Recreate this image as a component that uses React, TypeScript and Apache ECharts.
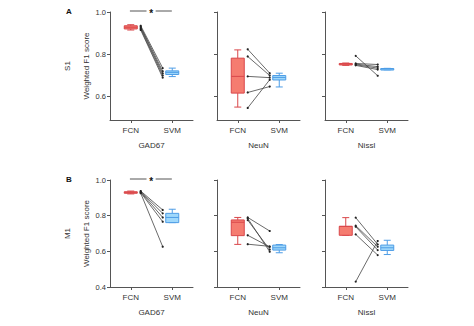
import React, { useEffect, useRef } from "react";
import * as echarts from "echarts";

const categories = ["FCN", "SVM"];
const markers = ["GAD67", "NeuN", "Nissl"];
const regions = ["S1", "M1"];
const panelLetters = ["A", "B"];

// box stats per marker: [min, q1, median, q3, max]
const s1FcnBoxes = [
  [0.915, 0.92, 0.928, 0.935, 0.94],
  [0.551, 0.617, 0.696, 0.782, 0.821],
  [0.748, 0.751, 0.754, 0.757, 0.759],
];
const s1SvmBoxes = [
  [0.695, 0.705, 0.715, 0.722, 0.735],
  [0.646, 0.679, 0.691, 0.7, 0.711],
  [0.727, 0.729, 0.731, 0.733, 0.734],
];
const m1FcnBoxes = [
  [0.922, 0.927, 0.931, 0.934, 0.938],
  [0.639, 0.688, 0.763, 0.776, 0.79],
  [0.69, 0.69, 0.74, 0.74, 0.789],
];
const m1SvmBoxes = [
  [0.761, 0.761, 0.79, 0.813, 0.836],
  [0.592, 0.607, 0.62, 0.635, 0.638],
  [0.582, 0.605, 0.62, 0.635, 0.662],
];

// paired values per marker (FCN -> SVM)
const s1FcnPaired = [
  [0.935, 0.93, 0.925, 0.92, 0.915],
  [0.824, 0.79, 0.696, 0.62, 0.547],
  [0.793, 0.757, 0.754, 0.751, 0.748],
];
const s1SvmPaired = [
  [0.735, 0.72, 0.71, 0.7, 0.69],
  [0.711, 0.7, 0.69, 0.648, 0.68],
  [0.699, 0.752, 0.742, 0.735, 0.728],
];
const m1FcnPaired = [
  [0.938, 0.935, 0.932, 0.929, 0.926],
  [0.79, 0.785, 0.775, 0.69, 0.64],
  [0.789, 0.744, 0.738, 0.695, 0.43],
];
const m1SvmPaired = [
  [0.832, 0.813, 0.79, 0.766, 0.626],
  [0.714, 0.598, 0.61, 0.625, 0.628],
  [0.639, 0.626, 0.607, 0.579, 0.658],
];

const significance = ["*", "", ""];
const s1Ticks = [0.6, 0.8, 1.0];
const m1Ticks = [0.4, 0.6, 0.8, 1.0];
const rowMin = [0.49, 0.4];
const rowMax = [1.0, 1.0];

const FONT = "Liberation Sans, Arial, sans-serif";
const AXIS_COLOR = "#555";
const TEXT_COLOR = "#333";
const FCN_FILL = "#f57c70";
const FCN_STROKE = "#d9474a";
const SVM_FILL = "#9fd8fb";
const SVM_STROKE = "#4e9de6";

const gridLeft = [110, 217, 325];
const gridTop = [12, 180];
const gridHeight = [108, 107];
const GRID_W = 83;

function boxRender(params: any, api: any) {
  const x = api.value(0);
  const kind = api.value(6);
  const vals = [1, 2, 3, 4, 5].map((i) => api.value(i));
  const ys = vals.map((v) => api.coord([x, v])[1]);
  const cx = api.coord([x, vals[0]])[0];
  const w = 13;
  const cap = 7;
  const stroke = kind === 0 ? FCN_STROKE : SVM_STROKE;
  const fill = kind === 0 ? FCN_FILL : SVM_FILL;
  const ls = { stroke, lineWidth: 1 };
  return {
    type: "group",
    children: [
      { type: "line", shape: { x1: cx, y1: ys[0], x2: cx, y2: ys[1] }, style: ls },
      { type: "line", shape: { x1: cx, y1: ys[3], x2: cx, y2: ys[4] }, style: ls },
      { type: "line", shape: { x1: cx - cap / 2, y1: ys[0], x2: cx + cap / 2, y2: ys[0] }, style: ls },
      { type: "line", shape: { x1: cx - cap / 2, y1: ys[4], x2: cx + cap / 2, y2: ys[4] }, style: ls },
      {
        type: "rect",
        shape: { x: cx - w / 2, y: ys[3], width: w, height: Math.max(ys[1] - ys[3], 1.5) },
        style: { fill, stroke, lineWidth: 1 },
      },
      { type: "line", shape: { x1: cx - w / 2, y1: ys[2], x2: cx + w / 2, y2: ys[2] }, style: ls },
    ],
  };
}

const LINE_X0 = 0.74;
const LINE_X1 = 1.27;

function pairRender(params: any, api: any) {
  const p0 = api.coord([LINE_X0, api.value(0)]);
  const p1 = api.coord([LINE_X1, api.value(1)]);
  return {
    type: "group",
    children: [
      {
        type: "line",
        shape: { x1: p0[0], y1: p0[1], x2: p1[0], y2: p1[1] },
        style: { stroke: "#444", lineWidth: 0.8 },
      },
      { type: "circle", shape: { cx: p0[0], cy: p0[1], r: 1.1 }, style: { fill: "#222" } },
      { type: "circle", shape: { cx: p1[0], cy: p1[1], r: 1.1 }, style: { fill: "#222" } },
    ],
  };
}

function sigRender(params: any, api: any) {
  const v = api.value(0);
  const a = api.coord([0.48, v]);
  const b = api.coord([0.88, v]);
  const s = api.coord([0.99, v]);
  const c = api.coord([1.1, v]);
  const d = api.coord([1.49, v]);
  const y = a[1] - 1;
  const ls = { stroke: "#555", lineWidth: 1 };
  return {
    type: "group",
    children: [
      { type: "line", shape: { x1: a[0], y1: y, x2: b[0], y2: y }, style: ls },
      { type: "line", shape: { x1: c[0], y1: y, x2: d[0], y2: y }, style: ls },
      {
        type: "text",
        style: {
          text: significance[0],
          x: s[0],
          y: y + 2,
          align: "center",
          verticalAlign: "middle",
          font: `bold 10px ${FONT}`,
          fill: "#111",
        },
      },
    ],
  };
}

export default function App() {
  const ref = useRef<HTMLDivElement>(null);

  useEffect(() => {
    if (!ref.current) return;
    const chart = echarts.init(ref.current, null, { renderer: "svg" });

    const grids: any[] = [];
    const xAxes: any[] = [];
    const yAxes: any[] = [];
    const series: any[] = [];
    const rows = [
      { fcn: s1FcnBoxes, svm: s1SvmBoxes, a: s1FcnPaired, b: s1SvmPaired, ticks: s1Ticks },
      { fcn: m1FcnBoxes, svm: m1SvmBoxes, a: m1FcnPaired, b: m1SvmPaired, ticks: m1Ticks },
    ];

    rows.forEach((row, r) => {
      markers.forEach((m, c) => {
        const idx = grids.length;
        grids.push({
          left: gridLeft[c],
          top: gridTop[r],
          width: GRID_W,
          height: gridHeight[r],
          containLabel: false,
        });
        xAxes.push({
          type: "value",
          gridIndex: idx,
          min: 0,
          max: 2,
          name: m,
          nameLocation: "middle",
          nameGap: 21,
          nameTextStyle: { fontFamily: FONT, fontSize: 8, color: TEXT_COLOR },
          splitLine: { show: false },
          axisLine: { show: true, onZero: false, lineStyle: { color: AXIS_COLOR, width: 1 } },
          axisTick: {
            show: true,
            length: 3,
            customValues: [0.5, 1.5],
            lineStyle: { color: AXIS_COLOR },
          },
          axisLabel: {
            show: true,
            customValues: [0.5, 1.5],
            margin: 6,
            fontFamily: FONT,
            fontSize: 8,
            color: TEXT_COLOR,
            formatter: (v: number) => categories[Math.round(v - 0.5)] ?? "",
          },
        });
        yAxes.push({
          type: "value",
          gridIndex: idx,
          min: rowMin[r],
          max: rowMax[r],
          name: c === 0 ? "Weighted F1 score" : "",
          nameLocation: "middle",
          nameGap: 20,
          nameTextStyle: { fontFamily: FONT, fontSize: 8, color: TEXT_COLOR },
          splitLine: { show: false },
          axisLine: { show: true, onZero: false, lineStyle: { color: AXIS_COLOR, width: 1 } },
          axisTick: {
            show: true,
            length: 3,
            customValues: row.ticks,
            lineStyle: { color: AXIS_COLOR },
          },
          axisLabel: {
            show: c === 0,
            customValues: row.ticks,
            margin: 4,
            fontFamily: FONT,
            fontSize: 7.5,
            color: TEXT_COLOR,
            formatter: (v: number) => v.toFixed(1),
          },
        });
        series.push({
          type: "custom",
          xAxisIndex: idx,
          yAxisIndex: idx,
          renderItem: boxRender,
          data: [
            [0.5, ...row.fcn[c], 0],
            [1.5, ...row.svm[c], 1],
          ],
          silent: true,
        });
        series.push({
          type: "custom",
          xAxisIndex: idx,
          yAxisIndex: idx,
          renderItem: pairRender,
          data: row.a[c].map((v, i) => [v, row.b[c][i]]),
          silent: true,
        });
        if (significance[c]) {
          series.push({
            type: "custom",
            xAxisIndex: idx,
            yAxisIndex: idx,
            renderItem: sigRender,
            data: [[rowMax[r]]],
            silent: true,
          });
        }
      });
    });

    const graphics: any[] = [];
    regions.forEach((reg, r) => {
      const centerY = gridTop[r] + gridHeight[r] / 2;
      graphics.push({
        type: "text",
        left: 66,
        top: gridTop[r] - 5,
        style: {
          text: panelLetters[r],
          font: `bold 8px ${FONT}`,
          fill: "#111",
        },
      });
      graphics.push({
        type: "text",
        x: 67,
        y: centerY,
        rotation: Math.PI / 2,
        style: {
          text: reg,
          font: `8px ${FONT}`,
          fill: TEXT_COLOR,
          align: "center",
          verticalAlign: "middle",
        },
      });
    });

    chart.setOption({
      animation: false,
      backgroundColor: "#ffffff",
      grid: grids,
      xAxis: xAxes,
      yAxis: yAxes,
      series,
      graphic: graphics,
    });

    return () => chart.dispose();
  }, []);

  return <div ref={ref} style={{ width: 474, height: 326, position: "absolute", left: 0, top: 0 }} />;
}
